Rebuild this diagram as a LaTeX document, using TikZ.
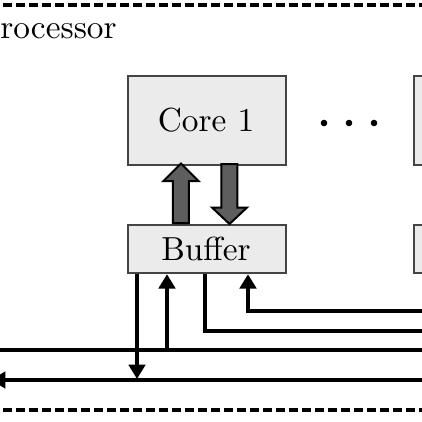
\documentclass[tikz,border=0pt]{standalone}
\usetikzlibrary{arrows.meta}
\definecolor{boxfill}{HTML}{EBEBEB}
\definecolor{boxline}{HTML}{444444}
\definecolor{bigarrow}{HTML}{5E5E5E}
\tikzset{
  unitbox/.style={draw=boxline, fill=boxfill, line width=0.65pt, inner sep=0pt, anchor=north west, font=\fontsize{10}{12}\selectfont},
  busline/.style={line width=1.25pt, line join=miter},
  thinarrow/.style={busline, -{Triangle[length=4.3pt,width=4.9pt]}},
  bigarrowstyle/.style={draw=black, fill=bigarrow, line width=0.6pt, line join=miter},
  frameline/.style={line width=1pt, dash pattern=on 2.7pt off 1.2pt},
}
\begin{document}
\begin{tikzpicture}[x=0.3pt,y=-0.3pt]
\useasboundingbox (0,0) rectangle (422,422);
% frame
\coordinate (fl1) at (-10,5);   \coordinate (fr1) at (432,5);
\coordinate (fl2) at (-10,410); \coordinate (fr2) at (432,410);
\draw[frameline] (fl1) -- (fr1);
\draw[frameline] (fl2) -- (fr2);
\node[anchor=base west, inner sep=0pt, font=\fontsize{10}{12}\selectfont] (proc) at (-23,38) {Processor};
% boxes
\node[unitbox, minimum width=158*0.3pt, minimum height=89*0.3pt] (core1) at (127,75) {};
\node[font=\fontsize{10}{12}\selectfont] (core1t) at (206,120) {Core 1};
\node[unitbox, minimum width=158*0.3pt, minimum height=48*0.3pt] (buf1) at (127,224) {};
\node[font=\fontsize{10}{12}\selectfont] (buf1t) at (206,249) {Buffer};
\node[unitbox, minimum width=158*0.3pt, minimum height=89*0.3pt] (core2) at (413,75) {};
\node[unitbox, minimum width=158*0.3pt, minimum height=48*0.3pt] (buf2) at (413,224) {};
% dots
\foreach \xx/\nm in {324/d1,349/d2,374/d3}
  \fill (\xx,123) circle [radius=3.3];
% big arrows
\draw[bigarrowstyle] (173,223) -- (173,181) -- (163.5,181) -- (181,163.5) -- (198.5,181) -- (189,181) -- (189,223) -- cycle;
\draw[bigarrowstyle] (221.5,164) -- (221.5,207.5) -- (212,207.5) -- (229.5,224) -- (247,207.5) -- (237.5,207.5) -- (237.5,164) -- cycle;
% bus lines
\coordinate (b1l) at (-10,350); \coordinate (b1r) at (432,350);
\coordinate (b2l) at (-9,380); \coordinate (b2r) at (432,380);
\coordinate (b3r) at (432,331); \coordinate (b4r) at (432,311);
\draw[busline] (b1l) -- (b1r);
\draw[thinarrow] (b2r) -- (b2l);
% buffer connections
\coordinate (t1) at (137,379);
\coordinate (s2) at (167,350);
\draw[thinarrow] (buf1.south west -| t1) -- (t1);
\draw[thinarrow] (s2) -- (buf1.south west -| s2);
\coordinate (c3) at (205,331);
\draw[busline] (buf1.south west -| c3) -- (c3) -- (b3r);
\coordinate (c4) at (248,311);
\draw[thinarrow] (b4r) -- (c4) -- (buf1.south west -| c4);
\end{tikzpicture}
\end{document}
